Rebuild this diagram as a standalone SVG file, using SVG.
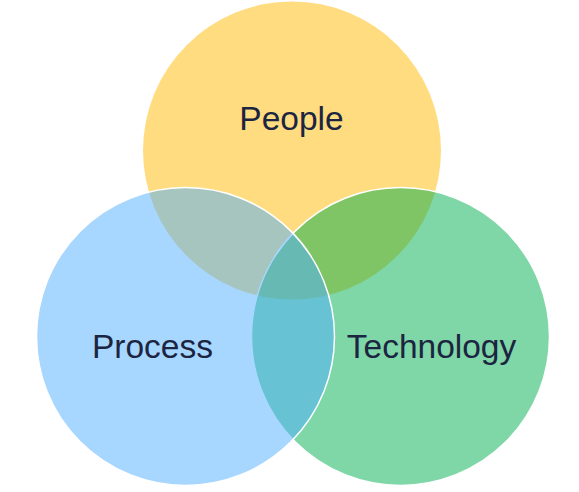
<svg xmlns="http://www.w3.org/2000/svg" width="579" height="492" viewBox="0 0 579 492">
  <style>
    .lbl { font-family: "Liberation Sans", Arial, sans-serif; font-size: 33.5px; fill: #1B2541; text-anchor: middle; }
    .ring { fill-opacity: 0.5; }
    .edge { stroke: #FFFFFF; stroke-width: 1.5; }
  </style>
  <rect width="579" height="492" fill="#FFFFFF"/>
  <g id="people">
    <circle class="ring" cx="292" cy="150.5" r="149" fill="#FFB900"/>
  </g>
  <g id="technology">
    <circle class="ring edge" cx="400.5" cy="336.5" r="149" fill="#00AD4D"/>
  </g>
  <g id="process">
    <circle class="ring edge" cx="185.5" cy="336.5" r="149" fill="#4FADFF"/>
  </g>
  <g id="connectors"></g>
  <g id="labels">
    <text class="lbl" x="291.5" y="130">People</text>
    <text class="lbl" x="152.5" y="357.5">Process</text>
    <text class="lbl" x="431.5" y="357.5">Technology</text>
  </g>
</svg>
